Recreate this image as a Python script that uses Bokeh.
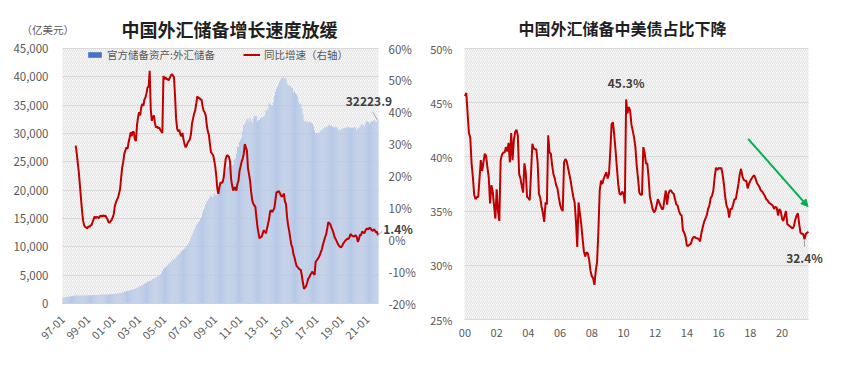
import math
from bokeh.plotting import figure
from bokeh.layouts import row
from bokeh.models import (Range1d, LinearAxis, FixedTicker, SingleIntervalTicker, PrintfTickFormatter,
                          NumeralTickFormatter, Legend, LegendItem, Label, BoxAnnotation, Arrow,
                          NormalHead)
from bokeh.embed import file_html
from bokeh.resources import INLINE

FONT = "Noto Sans CJK SC"

# ---- left panel data: official FX reserves (100 mn USD), monthly from 1997-01 ----
reserves = [
    1072, 1090, 1110, 1135, 1170, 1200, 1236, 1270, 1300, 1330, 1360, 1399,          # 1997
    1400, 1404, 1406, 1410, 1405, 1406, 1406, 1407, 1410, 1415, 1430, 1450,          # 1998
    1455, 1460, 1465, 1466, 1470, 1480, 1482, 1495, 1505, 1520, 1535, 1547,          # 1999
    1568, 1575, 1577, 1582, 1589, 1587, 1590, 1600, 1610, 1618, 1633, 1656,          # 2000
    1688, 1709, 1759, 1801, 1805, 1809, 1850, 1900, 1956, 2000, 2067, 2122,          # 2001
    2146, 2202, 2226, 2302, 2340, 2427, 2466, 2515, 2585, 2665, 2740, 2864,          # 2002
    2990, 3080, 3160, 3240, 3340, 3465, 3565, 3647, 3837, 3930, 4000, 4033,          # 2003
    4152, 4303, 4397, 4490, 4579, 4711, 4831, 4925, 5145, 5397, 5750, 6099,          # 2004
    6236, 6426, 6591, 6700, 6911, 7110, 7327, 7533, 7690, 7857, 7942, 8189,          # 2005
    8451, 8536, 8751, 8950, 9250, 9411, 9545, 9720, 9879, 10096, 10387, 10663,       # 2006
    11046, 11578, 12020, 12467, 12926, 13326, 13852, 14086, 14336, 14548, 14970, 15282,  # 2007
    15898, 16471, 16822, 17566, 17969, 18088, 18452, 18841, 19056, 18797, 18847, 19460,  # 2008
    19134, 19121, 19537, 20089, 20891, 21316, 21746, 22257, 22726, 22726, 23300, 23992,  # 2009
    24153, 24247, 24471, 24905, 24395, 24543, 25380, 25480, 26483, 27609, 27680, 28473,  # 2010
    28800, 29210, 30447, 31500, 31660, 31975, 32452, 32625, 32017, 32738, 32209, 31811,  # 2011
    32537, 33100, 33050, 32985, 32061, 32400, 32400, 32730, 32850, 32870, 32980, 33116,  # 2012
    34100, 33955, 34426, 35345, 35148, 34967, 34970, 35530, 36627, 37366, 37895, 38213,  # 2013
    38666, 39137, 39481, 39788, 39838, 39932, 39662, 39688, 38877, 38529, 38473, 38430,  # 2014
    38134, 38015, 37300, 37482, 37111, 36938, 36513, 35574, 35141, 35255, 34383, 33304,  # 2015
    32309, 32023, 32126, 32197, 31917, 32052, 32011, 31851, 31664, 31206, 30516, 30105,  # 2016
    29982, 30051, 30091, 30295, 30536, 30568, 30807, 30915, 31085, 31092, 31193, 31399,  # 2017
    31615, 31345, 31428, 31249, 31106, 31121, 31179, 31097, 30870, 30531, 30617, 30727,  # 2018
    30879, 30902, 30988, 30950, 31010, 31192, 31037, 31072, 30924, 31052, 30956, 31079,  # 2019
    31155, 31067, 30606, 30915, 31017, 31123, 31544, 31646, 31426, 31280, 31785, 32165,  # 2020
    32107, 32049, 31700, 31982, 32218, 32140, 32359, 32321, 32006, 32176, 32223.9,        # 2021
]

# year-on-year growth (%), monthly from 1998-01
growth = [
    29.5, 27.0, 24.0, 21.0, 17.0, 13.0, 9.0, 6.0, 4.5, 4.0, 3.8, 3.6,               # 1998
    4.2, 4.0, 4.5, 4.6, 5.5, 6.5, 7.3, 6.8, 7.2, 7.0, 6.8, 7.4,                     # 1999
    7.6, 7.2, 7.7, 7.3, 7.6, 7.0, 6.5, 5.6, 5.3, 5.8, 6.2, 7.0,                     # 2000
    8.1, 10.5, 11.7, 12.5, 13.2, 14.4, 16.0, 19.5, 22.7, 24.5, 27.0, 28.0,          # 2001
    29.0, 28.5, 30.5, 32.0, 33.7, 32.5, 34.0, 33.7, 31.5, 31.0, 36.0, 38.5,         # 2002
    40.0, 39.0, 41.5, 42.7, 42.0, 44.0, 44.6, 46.0, 47.8, 48.0, 53.0, 41.0,         # 2003
    37.3, 38.5, 39.0, 36.5, 35.2, 35.5, 35.0, 35.2, 34.5, 34.0, 33.5, 51.4,         # 2004
    50.3, 51.0, 50.3, 50.5, 50.0, 50.8, 51.5, 52.0, 51.5, 51.0, 45.0, 38.0,         # 2005
    34.8, 34.0, 34.5, 33.0, 32.5, 33.5, 31.5, 30.0, 29.0, 29.5, 30.5, 31.0,         # 2006
    31.5, 33.0, 36.3, 38.0, 39.5, 40.5, 42.5, 45.0, 44.5, 44.5, 44.0, 44.0,         # 2007
    42.0, 40.5, 40.0, 39.0, 36.0, 34.0, 33.0, 30.0, 27.5, 27.0, 26.5, 25.0,         # 2008
    23.0, 20.0, 16.0, 14.4, 16.5, 18.0, 17.8, 18.0, 19.5, 22.7, 25.5, 26.4,         # 2009
    26.4, 26.0, 24.5, 19.2, 17.0, 15.4, 16.2, 16.5, 15.4, 17.5, 18.5, 21.6,         # 2010
    23.0, 24.5, 25.4, 27.0, 30.0, 29.0, 28.0, 22.4, 20.5, 18.5, 15.0, 12.5,         # 2011
    11.3, 10.8, 10.3, 7.0, 4.0, 2.0, 0.4, 0.8, 1.0, 2.0, 3.0, 2.5,                  # 2012
    2.0, 3.5, 5.0, 6.5, 9.0, 9.2, 8.7, 9.3, 10.0, 12.5, 14.9, 15.0,                 # 2013
    15.3, 14.8, 14.0, 13.5, 13.8, 14.5, 12.0, 11.2, 7.0, 4.5, 2.8, 0.5,             # 2014
    -1.5, -2.4, -4.5, -5.5, -7.0, -8.2, -8.6, -9.0, -9.3, -9.5, -11.3, -13.5,       # 2015
    -15.4, -15.0, -14.5, -13.5, -12.2, -11.8, -11.0, -10.5, -10.0, -10.6, -11.0, -7.0,  # 2016
    -6.5, -6.0, -5.5, -4.8, -3.8, -3.0, -1.5, -0.3, 0.8, 1.8, 3.5, 5.5,             # 2017
    5.2, 4.8, 3.8, 3.0, 2.0, 0.8, 0.2, -0.5, -1.3, -1.8, -2.2, -2.4,                # 2018
    -2.0, -1.3, -0.8, -0.3, 0.0, 0.3, 0.2, 0.8, 1.8, 1.4, 1.2, 1.0,                 # 2019
    1.2, 1.4, 0.8, -0.7, 0.2, 1.6, 1.4, 2.6, 2.3, 2.0, 2.8, 3.4,                    # 2020
    3.5, 3.2, 3.8, 3.6, 3.0, 2.8, 3.3, 3.0, 2.3, 2.6, 1.4,                          # 2021
]
growth_lag = 12  # growth series starts one year after the reserves series

month_ticks = [0, 24, 48, 72, 96, 120, 144, 168, 192, 216, 240, 264, 288]
month_tick_labels = ["97-01", "99-01", "01-01", "03-01", "05-01", "07-01", "09-01",
                     "11-01", "13-01", "15-01", "17-01", "19-01", "21-01"]

# ---- right panel data: US Treasuries as share of FX reserves (%), monthly from 2000-01 ----
ust_share = [
    45.6, 45.9, 44.0, 42.2, 41.8, 39.4, 38.1, 36.5, 36.1, 36.3, 36.3, 38.0,   # 2000
    39.7, 38.7, 39.5, 40.3, 40.1, 39.0, 38.1, 35.7, 37.4, 36.8, 35.5, 34.3,   # 2001
    37.0, 35.0, 34.1, 39.7, 40.2, 40.4, 40.4, 40.9, 40.5, 41.3, 39.5, 42.2,   # 2002
    39.7, 41.5, 42.3, 42.5, 42.0, 38.4, 38.0, 37.3, 36.7, 39.4, 38.6, 36.3,   # 2003
    36.2, 36.0, 38.5, 41.2, 40.8, 40.7, 40.7, 39.5, 36.6, 36.2, 35.4, 34.8,   # 2004
    34.0, 35.8, 35.6, 42.0, 40.4, 40.3, 39.2, 38.4, 38.0, 37.4, 37.1, 36.3,   # 2005
    35.6, 35.2, 35.0, 39.5, 39.8, 39.6, 39.0, 38.4, 37.8, 37.0, 36.3, 35.8,   # 2006
    34.1, 31.7, 35.8, 34.8, 33.8, 32.5, 31.3, 30.8, 31.2, 31.1, 30.5, 29.5,   # 2007
    29.0, 28.8, 28.2, 29.5, 30.3, 33.2, 36.9, 37.8, 37.5, 38.0, 38.3, 38.6,   # 2008
    38.0, 38.4, 40.5, 43.0, 43.2, 42.0, 40.6, 39.0, 37.5, 36.6, 36.5, 36.8,   # 2009
    36.6, 35.7, 45.3, 44.0, 44.6, 44.3, 43.0, 42.4, 41.8, 40.9, 39.2, 38.0,   # 2010
    36.7, 36.5, 36.5, 40.9, 40.4, 39.4, 39.4, 38.1, 36.3, 35.8, 35.2, 34.9,   # 2011
    35.0, 35.5, 36.1, 35.8, 35.5, 35.2, 35.2, 36.1, 36.9, 35.6, 36.6, 36.9,   # 2012
    36.9, 36.7, 36.6, 36.1, 35.6, 35.5, 35.0, 34.7, 34.6, 33.2, 33.0, 32.6,   # 2013
    31.8, 31.8, 31.9, 32.0, 32.4, 32.6, 32.6, 32.5, 32.5, 32.4, 32.2, 33.0,   # 2014
    33.5, 34.0, 34.3, 34.6, 35.2, 35.5, 36.2, 36.4, 36.9, 38.1, 39.0, 38.8,   # 2015
    39.0, 38.9, 39.0, 38.4, 37.5, 36.3, 35.5, 35.2, 34.4, 35.2, 35.2, 35.6,   # 2016
    36.1, 36.1, 36.8, 37.5, 38.4, 38.9, 38.2, 37.9, 37.8, 37.8, 37.1, 37.5,   # 2017
    37.8, 38.0, 38.2, 38.3, 38.0, 37.6, 37.4, 37.2, 36.9, 36.8, 36.6, 36.4,   # 2018
    36.1, 36.0, 35.8, 35.7, 35.6, 35.5, 35.2, 35.4, 35.3, 34.6, 35.2, 35.0,   # 2019
    34.3, 34.1, 34.6, 35.0, 33.8, 33.7, 33.6, 33.5, 33.4, 33.6, 34.2, 34.6,   # 2020
    34.8, 33.8, 33.0, 32.9, 32.9, 32.4, 32.9, 33.0, 33.1,                     # 2021
]
year_ticks = [2000, 2002, 2004, 2006, 2008, 2010, 2012, 2014, 2016, 2018, 2020]
year_tick_labels = ["00", "02", "04", "06", "08", "10", "12", "14", "16", "18", "20"]

# trend arrow (year, %) endpoints
trend_start = (2017.86, 41.66)
trend_end = (2021.64, 35.42)

LABEL_GRAY = "#595959"
GRID_GRAY = "#d9d9d9"
RED = "#c00000"
NOTE_COLOR = "#404040"
H = 369


def span(lo, hi, px_lo, px_hi, total):
    """Range whose [lo, hi] lands on pixels [px_lo, px_hi] of a canvas `total` px long."""
    s = (hi - lo) / (px_hi - px_lo)
    return Range1d(lo - px_lo * s, hi + (total - px_hi) * s)


def hatch_background(p, left, right, bottom, top):
    bg = BoxAnnotation(left=left, right=right, bottom=bottom, top=top,
                       fill_color="#f8f8f8", fill_alpha=1.0, line_color=None,
                       hatch_pattern="right_diagonal_line", hatch_color="#e2e2e2",
                       hatch_scale=4, hatch_weight=1, level="image")
    p.add_layout(bg)


def style_axis(ax, size, standoff):
    ax.axis_line_color = None
    ax.major_tick_line_color = None
    ax.minor_tick_line_color = None
    ax.major_tick_out = 0
    ax.major_tick_in = 0
    ax.minor_tick_out = 0
    ax.minor_tick_in = 0
    ax.major_label_standoff = standoff
    ax.major_label_text_font = FONT
    ax.major_label_text_color = LABEL_GRAY
    ax.major_label_text_font_size = size


def note(x, y, text, dx, dy, size="12px", bold=True, color=NOTE_COLOR, align="center", **kw):
    return Label(x=x, y=y, x_offset=dx, y_offset=dy, text=text, text_font=FONT,
                 text_font_size=size, text_font_style="bold" if bold else "normal",
                 text_color=color, text_align=align, text_baseline="middle", **kw)


def base_figure(width, x_range, y_range):
    p = figure(width=width, height=H, output_backend="svg", toolbar_location=None,
               x_range=x_range, y_range=y_range, min_border=0, title=None)
    p.outline_line_color = None
    p.background_fill_color = "white"
    p.border_fill_color = "white"
    p.xgrid.visible = False
    p.ygrid.grid_line_color = GRID_GRAY
    return p


# ================= left panel: reserves (bars) + growth (line) =================
months = list(range(len(reserves)))
g_months = [m + growth_lag for m in range(len(growth))]
x_lo, x_hi = -0.5, len(reserves) - 0.5
y_lo, y_hi = 0, 45000
g_lo, g_hi = -20, 60
# plot area in pixels: x 62..378, y 48..303 (from the top)
p1 = base_figure(420, span(x_lo, x_hi, 62, 378, 420), span(y_lo, y_hi, H - 303, H - 48, H))
p1.extra_y_ranges = {"pct": span(g_lo, g_hi, H - 303, H - 48, H)}
hatch_background(p1, x_lo, x_hi, y_lo, y_hi)
p1.ygrid.cross_bounds = (x_lo, x_hi)

bars = p1.vbar(x=months, top=reserves, width=0.9, fill_color="#b4c7e7", line_color=None)
line = p1.line(x=g_months, y=growth, y_range_name="pct", line_color=RED, line_width=2)
# zero-height proxy bar that carries the legend swatch colour
swatch = p1.vbar(x=months[:1], top=[0], bottom=[0], width=0.9, fill_color="#4472c4", line_color=None)

left_axis = p1.yaxis[0]
left_axis.ticker = SingleIntervalTicker(interval=5000)
left_axis.formatter = NumeralTickFormatter(format="0,0")
left_axis.fixed_location = x_lo
left_axis.bounds = (y_lo, y_hi)
style_axis(left_axis, "11.5px", 14)

right_axis = LinearAxis(y_range_name="pct", ticker=SingleIntervalTicker(interval=10),
                        formatter=PrintfTickFormatter(format="%d%%"),
                        fixed_location=x_hi, bounds=(g_lo, g_hi))
p1.add_layout(right_axis, "right")
style_axis(right_axis, "11.5px", 10)

bottom_axis = p1.xaxis[0]
bottom_axis.ticker = FixedTicker(ticks=month_ticks)
bottom_axis.major_label_overrides = dict(zip(month_ticks, month_tick_labels))
bottom_axis.major_label_orientation = math.pi / 4
bottom_axis.fixed_location = y_lo
bottom_axis.bounds = (x_lo, x_hi)
style_axis(bottom_axis, "11px", 14)

legend = Legend(items=[LegendItem(label="官方储备资产:外汇储备", renderers=[swatch]),
                       LegendItem(label="同比增速（右轴）", renderers=[line])],
                location=(86, H - 62), orientation="horizontal",
                background_fill_alpha=0, border_line_color=None,
                label_text_font=FONT, label_text_font_size="10.5px", label_text_color=LABEL_GRAY,
                glyph_width=17, glyph_height=7, label_standoff=4, spacing=28,
                padding=0, margin=0)
p1.add_layout(legend)

p1.add_layout(note(x_lo, y_hi, "中国外汇储备增长速度放缓", 59, 20, size="18px",
                   color="#1f1f1f", align="left"))
p1.add_layout(note(x_lo, y_hi, "（亿美元）", -41, 19, size="10.5px", bold=False,
                   color=LABEL_GRAY, align="left"))

last_m = months[-1]
p1.segment(x0=[last_m], y0=[reserves[-1]], x1=[last_m - 5], y1=[reserves[-1] + 1600],
           line_color="#a6a6a6", line_width=1)
p1.add_layout(note(last_m, reserves[-1], f"{reserves[-1]:.1f}", -9, 19))
last_g = g_months[-1]
p1.segment(x0=[last_g], y0=[growth[-1]], x1=[last_g + 4], y1=[growth[-1] + 1.2],
           y_range_name="pct", line_color="#a6a6a6", line_width=1)
p1.add_layout(note(last_g, growth[-1], f"{growth[-1]:.1f}%", 20, 7, y_range_name="pct"))

# ================= right panel: US Treasury share =================
share_x = [2000 + m / 12 for m in range(len(ust_share))]
sx_lo, sx_hi = 1999.97, 2021.67
sy_lo, sy_hi = 25, 50
# plot area in pixels: x 44..388, y 48..319 (from the top)
p2 = base_figure(421, span(sx_lo, sx_hi, 44, 388, 421), span(sy_lo, sy_hi, H - 319, H - 48, H))
hatch_background(p2, sx_lo, sx_hi, sy_lo, sy_hi)
p2.ygrid.cross_bounds = (sx_lo, sx_hi)
p2.line(x=share_x, y=ust_share, line_color=RED, line_width=2)

ay = p2.yaxis[0]
ay.ticker = SingleIntervalTicker(interval=5)
ay.formatter = PrintfTickFormatter(format="%d%%")
ay.fixed_location = sx_lo
ay.bounds = (sy_lo, sy_hi)
style_axis(ay, "11px", 12)

ax = p2.xaxis[0]
ax.ticker = FixedTicker(ticks=year_ticks)
ax.major_label_overrides = dict(zip(year_ticks, year_tick_labels))
ax.fixed_location = sy_lo
ax.bounds = (sx_lo, sx_hi)
style_axis(ax, "11px", 9)

p2.add_layout(note(sx_lo, sy_hi, "中国外汇储备中美债占比下降", 54, 21, size="16px",
                   color="#1f1f1f", align="left"))

peak_i = max(range(120, 132), key=lambda i: ust_share[i])
p2.add_layout(note(share_x[peak_i], ust_share[peak_i], f"{ust_share[peak_i]:.1f}%", 0, 17))
low_i = min(range(len(ust_share) - 12, len(ust_share)), key=lambda i: ust_share[i])
p2.segment(x0=[share_x[low_i]], y0=[ust_share[low_i] - 0.1], x1=[share_x[low_i]],
           y1=[ust_share[low_i] - 0.7], line_color="#a6a6a6", line_width=1)
p2.add_layout(note(share_x[low_i], ust_share[low_i], f"{ust_share[low_i]:.1f}%", 0, -18))

p2.add_layout(Arrow(end=NormalHead(size=7, fill_color="#00b050", line_color="#00b050"),
                    x_start=trend_start[0], y_start=trend_start[1],
                    x_end=trend_end[0], y_end=trend_end[1],
                    line_color="#00b050", line_width=2))

layout = row(p1, p2, spacing=0)
open("out.html", "w").write(file_html(layout, INLINE))
